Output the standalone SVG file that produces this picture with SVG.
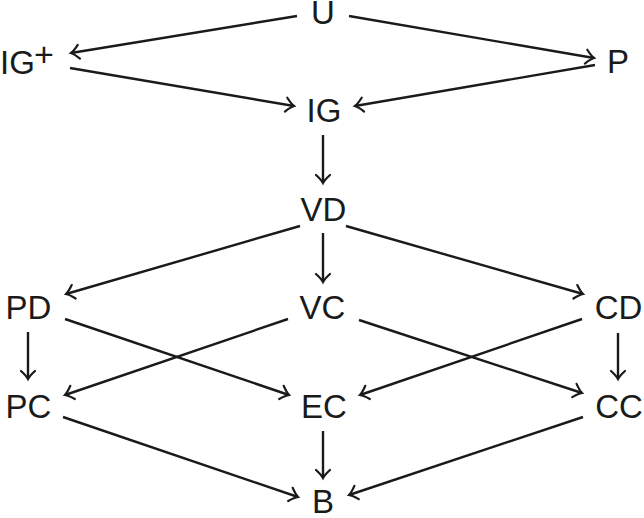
<svg xmlns="http://www.w3.org/2000/svg" width="644" height="518" viewBox="0 0 644 518">
<defs>
<marker id="ah" markerUnits="userSpaceOnUse" markerWidth="20" markerHeight="20" viewBox="-12 -10 14 20" refX="0" refY="0" orient="auto">
<path d="M-8,-7 Q-3,-1.5 0,0 Q-3,1.5 -8,7" fill="none" stroke="#1a1a1a" stroke-width="2.2" stroke-linecap="round"/>
</marker>
<style>
text{font-family:"Liberation Sans",Arial,sans-serif;font-size:33px;fill:#1a1a1a;text-anchor:middle}
.e line{stroke:#1a1a1a;stroke-width:2.4;marker-end:url(#ah)}
</style>
</defs>
<rect width="644" height="518" fill="#ffffff"/>
<g class="e" id="edges">
<line x1="297" y1="16" x2="71" y2="53"/>
<line x1="349" y1="16" x2="594" y2="58"/>
<line x1="70" y1="68" x2="294" y2="106"/>
<line x1="595" y1="65" x2="355" y2="106"/>
<line x1="323" y1="135" x2="323" y2="183"/>
<line x1="300" y1="226" x2="66" y2="294"/>
<line x1="323" y1="233" x2="323" y2="282"/>
<line x1="346" y1="226" x2="583" y2="294"/>
<line x1="28" y1="332" x2="28" y2="379"/>
<line x1="65" y1="319" x2="289" y2="395"/>
<line x1="288" y1="319" x2="65" y2="395"/>
<line x1="359" y1="320" x2="582" y2="393"/>
<line x1="582" y1="319" x2="360" y2="395"/>
<line x1="618" y1="333" x2="618" y2="379"/>
<line x1="63" y1="417" x2="298" y2="497"/>
<line x1="323" y1="431" x2="323" y2="478"/>
<line x1="583" y1="417" x2="349" y2="495"/>
</g>
<g id="U"><text x="323" y="24">U</text></g>
<g id="IGp"><text x="0" y="74" style="text-anchor:start">IG<tspan x="34" font-size="34" dy="-8">+</tspan></text></g>
<g id="P"><text x="618" y="73">P</text></g>
<g id="IG"><text x="324" y="122">IG</text></g>
<g id="VD"><text x="323.5" y="221">VD</text></g>
<g id="PD"><text x="28.5" y="319">PD</text></g>
<g id="VC"><text x="322.5" y="319">VC</text></g>
<g id="CD"><text x="618.5" y="319">CD</text></g>
<g id="PC"><text x="28.5" y="418">PC</text></g>
<g id="EC"><text x="324" y="418">EC</text></g>
<g id="CC"><text x="619" y="418">CC</text></g>
<g id="B"><text x="323" y="513">B</text></g>
</svg>
